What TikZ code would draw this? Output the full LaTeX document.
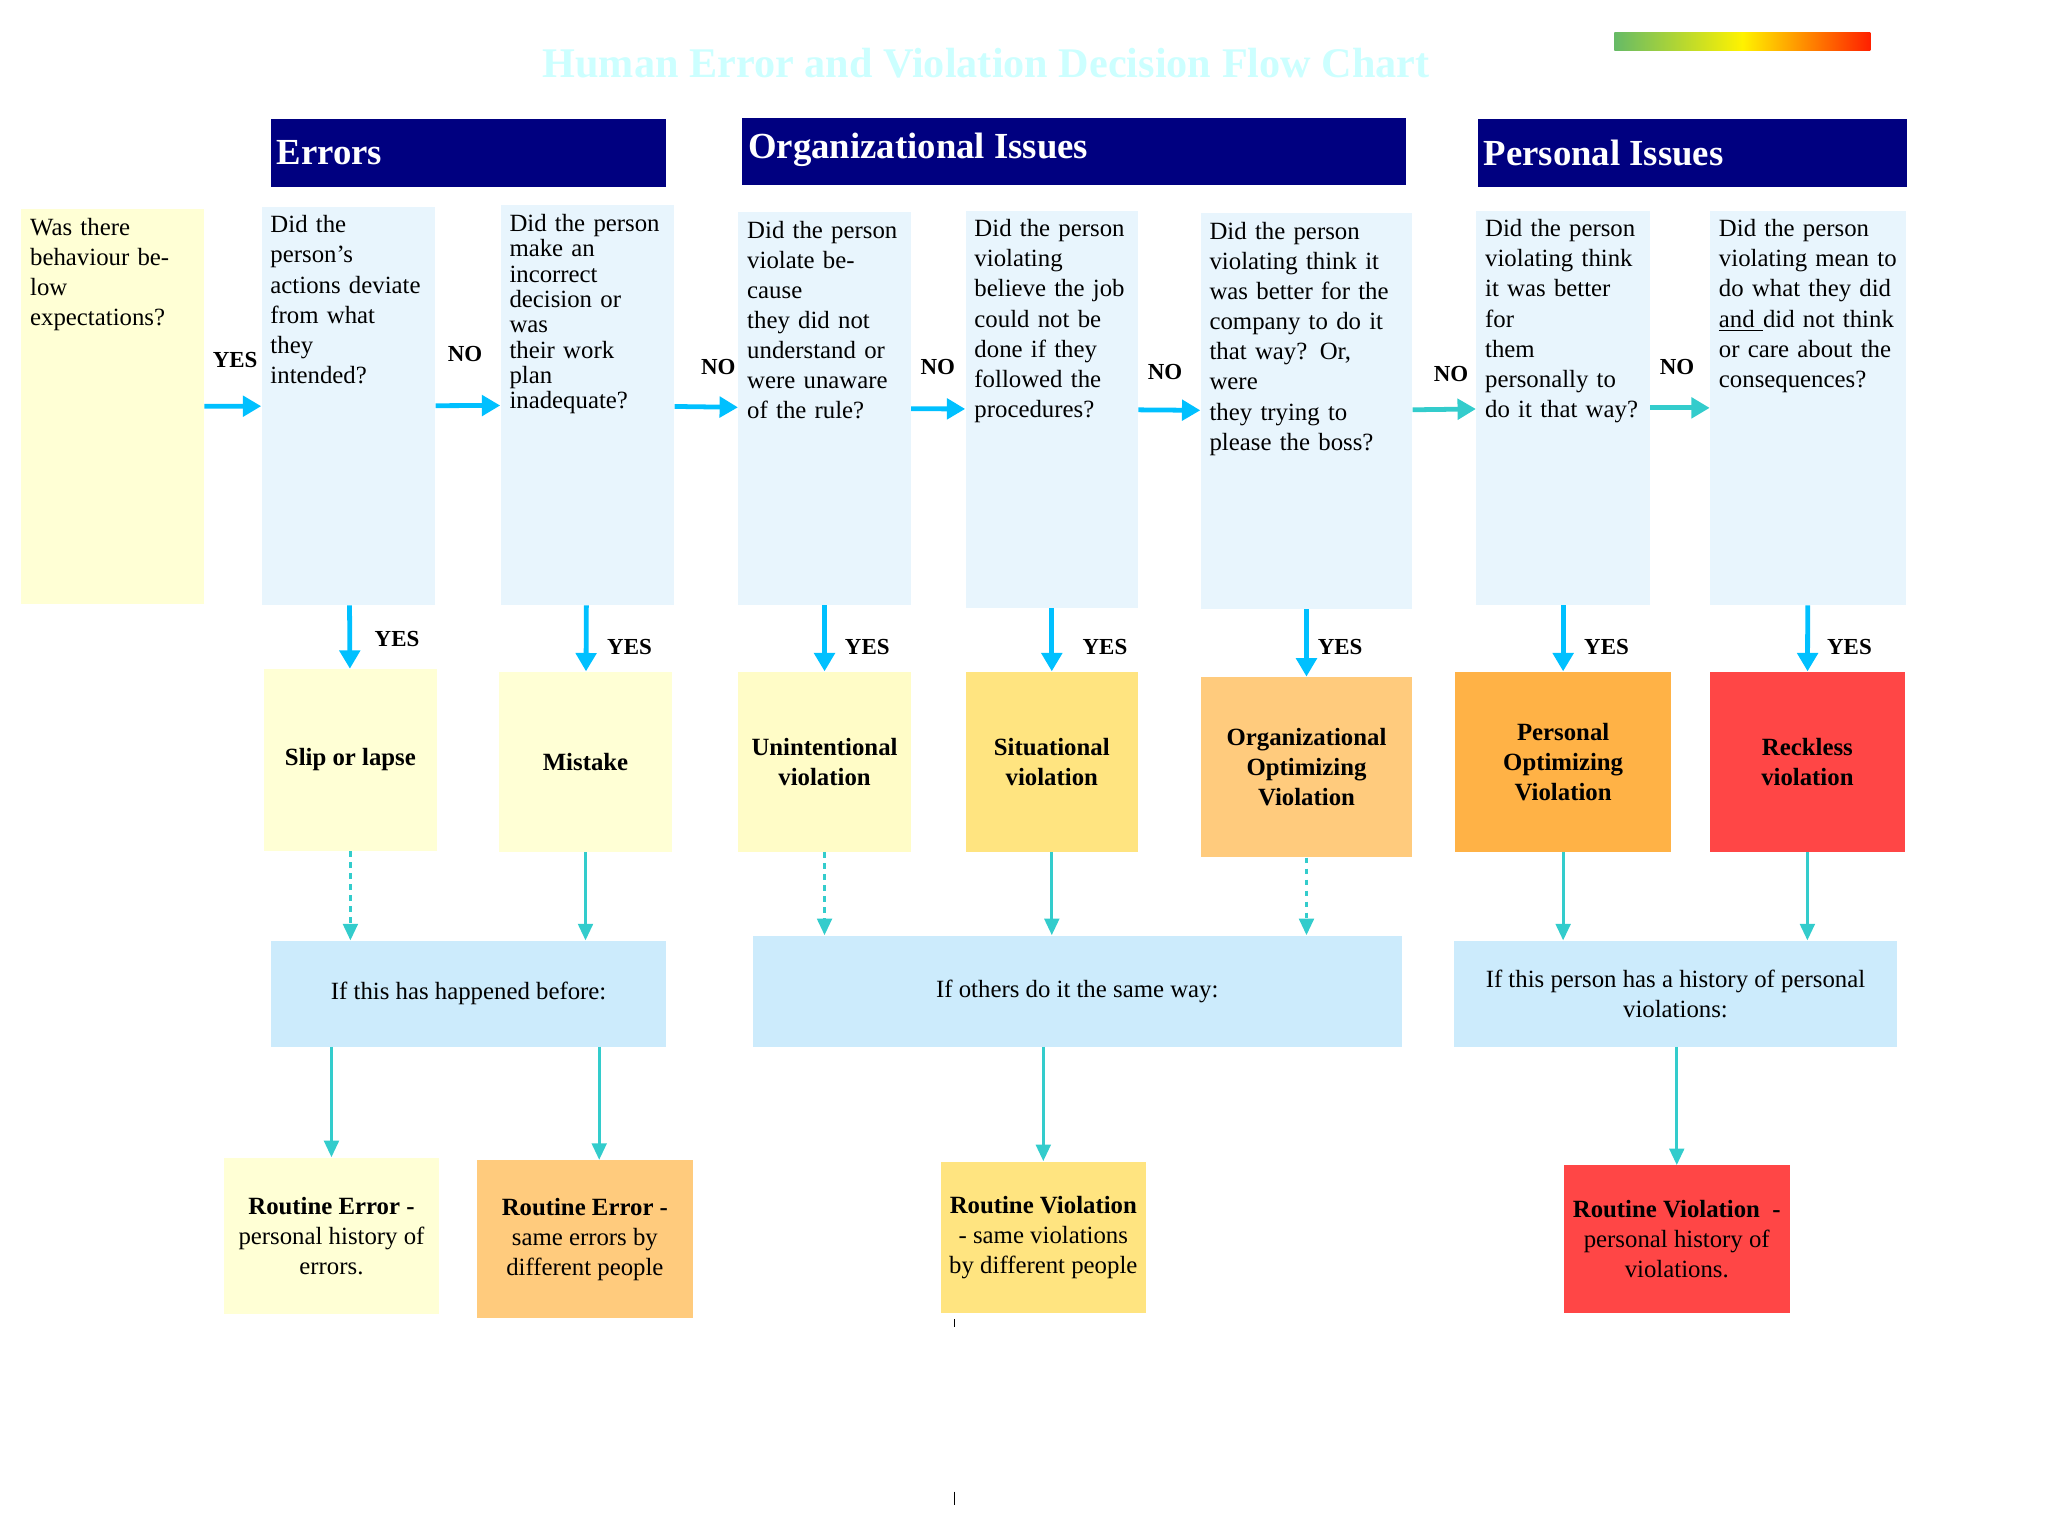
\documentclass[tikz,border=0pt]{standalone}
\usepackage{fontspec}
\setmainfont{Liberation Serif}
\usetikzlibrary{arrows.meta}
\definecolor{navyhead}{HTML}{000080}
\definecolor{qblue}{HTML}{E8F5FD}
\definecolor{cblue}{HTML}{CCEBFC}
\definecolor{paleyel}{HTML}{FFFFD5}
\definecolor{yelres}{HTML}{FFE480}
\definecolor{orres}{HTML}{FFCB7D}
\definecolor{deepor}{HTML}{FFB246}
\definecolor{redres}{HTML}{FF4646}
\definecolor{skyarr}{HTML}{00C0FF}
\definecolor{tealarr}{HTML}{33CCCC}
\definecolor{titlecol}{HTML}{CCFFFF}
\tikzset{
  box/.style 2 args={minimum width=#1*0.025cm, minimum height=#2*0.025cm, inner sep=0pt, anchor=north west},
  head/.style={fill=navyhead, text=white, font=\fontsize{20}{24}\selectfont\bfseries, align=left},
  ques/.style={fill=qblue, draw=none},
  txt/.style={anchor=north west, inner sep=0.17cm, align=left, font=\fontsize{13.5}{16.4}\selectfont},
  res/.style={align=center, font=\fontsize{13.5}{16.4}\selectfont\bfseries},
  cond/.style={fill=cblue, align=center, font=\fontsize{13.5}{16.4}\selectfont},
  fin/.style={align=center, font=\fontsize{13.5}{16.4}\selectfont},
  arr/.style={-{Triangle[width=11pt,length=10pt]}, line width=2.6pt, skyarr},
  arrt/.style={-{Triangle[width=11pt,length=10pt]}, line width=2.6pt, tealarr},
  thin arr/.style={-{Triangle[width=8pt,length=9pt]}, line width=1.6pt, tealarr},
  yn/.style={font=\fontsize{12.5}{14}\selectfont\bfseries}
}
\begin{document}
\begin{tikzpicture}[x=0.025cm, y=-0.025cm]
\useasboundingbox (0,0) rectangle (1568,1168);

% title and scale bar
\node[text=titlecol, font=\fontsize{23}{27}\selectfont\bfseries] (title) at (755,48) {Human Error and Violation Decision Flow Chart};
\shade[left color=green!55!black!60!white, right color=red!75!orange, middle color=yellow!90!orange] (1236,25) rectangle (1432,39);

% headers
\node[head, box={303}{52}] (herr) at (207,91) {};
\node[anchor=west, text=white, font=\fontsize{20}{24}\selectfont\bfseries] (herrt) at (207,117) {Errors};
\node[head, box={508}{51}] (horg) at (568,90) {};
\node[anchor=west, text=white, font=\fontsize{20}{24}\selectfont\bfseries] (horgt) at (568,115) {Organizational Issues};
\node[head, box={329}{52}] (hper) at (1131,91) {};
\node[anchor=west, text=white, font=\fontsize{20}{24}\selectfont\bfseries] (hpert) at (1131,117) {Personal Issues};

% questions
\node[box={140}{302}, fill=paleyel] (q0) at (16,160) {};
\node[txt, text width=3.15cm] at (q0.north west) {Was there\\behaviour below\\expectations?};
\node[ques, box={133}{305}] (q1) at (200,158) {};
\node[txt, text width=2.975cm] at (q1.north west) {Did the\\person’s\\actions deviate\\from what they\\intended?};
\node[ques, box={133}{306}] (q2) at (383,157) {};
\node[txt, text width=2.975cm, font=\fontsize{13.5}{13.8}\selectfont] at (q2.north west) {Did the person\\make an\\incorrect\\decision or was\\their work plan\\inadequate?};
\node[ques, box={132}{301}] (q3) at (565,162) {};
\node[txt, text width=2.95cm] at (q3.north west) {Did the person\\violate because\\they did not\\understand or\\were unaware\\of the rule?};
\node[ques, box={132}{304}] (q4) at (739,161) {};
\node[txt, text width=2.95cm] at (q4.north west) {Did the person\\violating\\believe the job\\could not be\\done if they\\followed the\\procedures?};
\node[ques, box={162}{303}] (q5) at (919,163) {};
\node[txt, text width=3.7cm] at (q5.north west) {Did the person\\violating think it\\was better for the\\company to do it\\that way? Or, were\\they trying to\\please the boss?};
\node[ques, box={133}{302}] (q6) at (1130,161) {};
\node[txt, text width=2.975cm] at (q6.north west) {Did the person\\violating think\\it was better for\\them\\personally to\\do it that way?};
\node[ques, box={150}{302}] (q7) at (1309,161) {};
\node[txt, text width=3.4cm] at (q7.north west) {Did the person\\violating mean to\\do what they did\\\underline{and }did not think\\or care about the\\consequences?};

% results
\node[box={132}{139}, fill=paleyel] (r1) at (202,512) {};
\node[res] at (r1.center) {Slip or lapse};
\node[box={132}{138}, fill=paleyel] (r2) at (382,514) {};
\node[res] at (r2.center) {Mistake};
\node[box={132}{138}, fill=yellow!22] (r3) at (565,514) {};
\node[res] at (r3.center) {Unintentional\\violation};
\node[box={132}{138}, fill=yelres] (r4) at (739,514) {};
\node[res] at (r4.center) {Situational\\violation};
\node[box={162}{138}, fill=orres] (r5) at (919,518) {};
\node[res] at (r5.center) {Organizational\\Optimizing\\Violation};
\node[box={165}{138}, fill=deepor] (r6) at (1114,514) {};
\node[res] at (r6.center) {Personal\\Optimizing\\Violation};
\node[box={149}{138}, fill=redres] (r7) at (1309,514) {};
\node[res] at (r7.center) {Reckless\\violation};

% conditions
\node[box={303}{81}, fill=cblue] (c1) at (207,720) {};
\node[cond] at (c1.center) {If this has happened before:};
\node[box={497}{85}, fill=cblue] (c2) at (576,716) {};
\node[cond] at (c2.center) {If others do it the same way:};
\node[box={339}{81}, fill=cblue] (c3) at (1113,720) {};
\node[cond] at (c3.center) {If this person has a history of personal\\violations:};

% finals
\node[box={165}{120}, fill=paleyel] (f1) at (171,886) {};
\node[fin] at (f1.center) {\textbf{Routine Error -}\\personal history of\\errors.};
\node[box={165}{121}, fill=orres] (f2) at (365,888) {};
\node[fin] at (f2.center) {\textbf{Routine Error -}\\same errors by\\different people};
\node[box={157}{116}, fill=yelres] (f3) at (720,889) {};
\node[fin] at (f3.center) {\textbf{Routine Violation}\\- same violations\\by different people};
\node[box={173}{113}, fill=redres] (f4) at (1197,892) {};
\node[fin] at (f4.center) {\textbf{Routine Violation\ \ -}\\personal history of\\violations.};

% horizontal arrows
\draw[arr] (q0) -- (q1);
\draw[arr] (q1) -- (q2);
\draw[arr] (q2) -- (q3);
\draw[arr] (q3) -- (q4);
\draw[arr] (q4) -- (q5);
\draw[arrt] (q5) -- (q6);
\draw[arrt] (q6) -- (q7);
\node[yn] at (180,276) {YES};
\node[yn] at (356,271) {NO};
\node[yn] at (550,281) {NO};
\node[yn] at (718,281) {NO};
\node[yn] at (892,285) {NO};
\node[yn] at (1111,286) {NO};
\node[yn] at (1284,281) {NO};

% down arrows
\draw[arr] (q1) -- (r1);
\draw[arr] (q2) -- (r2);
\draw[arr] (q3) -- (r3);
\draw[arr] (q4) -- (r4);
\draw[arr] (q5) -- (r5);
\draw[arr] (q6) -- (r6);
\draw[arr] (q7) -- (r7);
\node[yn] at (304,489) {YES};
\node[yn] at (482,495) {YES};
\node[yn] at (664,495) {YES};
\node[yn] at (846,495) {YES};
\node[yn] at (1026,495) {YES};
\node[yn] at (1230,495) {YES};
\node[yn] at (1416,495) {YES};

% results to conditions
\draw[thin arr, dashed] (r1.south) -- (r1.south |- c1.north);
\draw[thin arr] (r2.south) -- (r2.south |- c1.north);
\draw[thin arr, dashed] (r3.south) -- (r3.south |- c2.north);
\draw[thin arr] (r4.south) -- (r4.south |- c2.north);
\draw[thin arr, dashed] (r5.south) -- (r5.south |- c2.north);
\draw[thin arr] (r6.south) -- (r6.south |- c3.north);
\draw[thin arr] (r7.south) -- (r7.south |- c3.north);

% conditions to finals
\draw[thin arr] (c1.south -| f1.north) -- (f1.north);
\draw[thin arr] ([xshift=11*0.025cm]c1.south -| f2.north) -- ([xshift=11*0.025cm]f2.north);
\draw[thin arr] (c2.south -| f3.north) -- (f3.north);
\draw[thin arr] (c3.south -| f4.north) -- (f4.north);

% stray ticks
\draw[line width=0.6pt] (731,1010) -- (731,1016);
\draw[line width=0.6pt] (731,1142) -- (731,1152);
\end{tikzpicture}
\end{document}
